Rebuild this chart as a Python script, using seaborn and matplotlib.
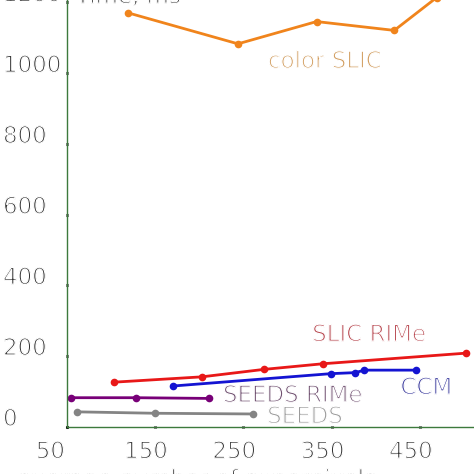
import numpy as np
import pandas as pd
import matplotlib
matplotlib.use("Agg")
import matplotlib.pyplot as plt
import matplotlib.patheffects as pe
import seaborn as sns
from matplotlib.transforms import blended_transform_factory

# ---- data ----
slic_x = [119, 244, 333, 421, 469]
slic_y = [1171, 1083, 1146, 1121, 1214]
slic_rime_x = [104, 203, 273, 340, 502]
slic_rime_y = [126, 141, 162, 178, 208]
ccm_x = [170, 349, 377, 387, 446]
ccm_y = [115, 150, 153, 160, 160]
seeds_rime_x = [55, 128, 211]
seeds_rime_y = [82, 82, 80]
seeds_x = [62, 150, 261]
seeds_y = [42, 38, 36]

series_names = ["color SLIC", "SLIC RIMe", "CCM", "SEEDS RIMe", "SEEDS"]
line_colors = ["#f0841c", "#e81818", "#1414d2", "#780078", "#848484"]
label_colors = ["#d09a5a", "#b84850", "#4040a0", "#705070", "#9a9a9a"]
label_pos_x = [278, 328, 428, 227, 277]
label_pos_y = [1015, 242, 92, 70, 10]

x_ticks = [50, 150, 250, 350, 450]
y_ticks = [0, 200, 400, 600, 800, 1000, 1200]
x_label = "average number of superpixels"
y_label = "Time, ms"

xs = [slic_x, slic_rime_x, ccm_x, seeds_rime_x, seeds_x]
ys = [slic_y, slic_rime_y, ccm_y, seeds_rime_y, seeds_y]

sns.set_theme(style="white")
plt.rcParams["font.family"] = ["DejaVu Sans"]

fig = plt.figure(figsize=(4.74, 4.74), dpi=100)
ax = fig.add_axes([0, 0, 1, 1])

for name, x, y, c in zip(series_names, xs, ys, line_colors):
    df = pd.DataFrame({"x": x, "y": y})
    sns.lineplot(data=df, x="x", y="y", ax=ax, color=c, linewidth=2.0,
                 marker="o", markersize=5.5, markeredgewidth=0, sort=False,
                 estimator=None, legend=False, clip_on=False)

ax.set_xlim(-25.5, 511.3)
ax.set_ylim(-133.8, 1207)

for s in ["top", "right"]:
    ax.spines[s].set_visible(False)
ax.spines["left"].set_position(("data", 50))
ax.spines["bottom"].set_position(("data", 0))
ax.spines["left"].set_bounds(0, 1300)
ax.spines["bottom"].set_bounds(50, 600)
for s in ["left", "bottom"]:
    ax.spines[s].set_color("#3c7a3c")
    ax.spines[s].set_linewidth(1.0)

ax.set_xticks(x_ticks)
ax.set_yticks(y_ticks)
ax.set_xticklabels([])
ax.set_yticklabels([])
ax.tick_params(axis="both", which="both", length=2.0, width=2.2, color="black",
               direction="inout", bottom=True, left=True)
ax.set_xlabel("")
ax.set_ylabel("")

fs = 16.5
tc = "#303030"
thin = [pe.Normal(), pe.Stroke(linewidth=0.9, foreground="white")]

def label(x, y, s, color, transform=None):
    kw = dict(ha="left", va="baseline", fontsize=fs, color=color,
              path_effects=thin)
    if transform is not None:
        kw["transform"] = transform
    ax.text(x, y, s, **kw)

ytr = blended_transform_factory(ax.transAxes, ax.transData)
for v in y_ticks:
    label(3 / 474, v + 3, str(v), tc, ytr)
for v in x_ticks:
    label(v - 35, -89, str(v), tc)

label(-5, -168, x_label, tc)
label(60.5, 1198, y_label, tc)

for name, lx, ly, c in zip(series_names, label_pos_x, label_pos_y, label_colors):
    label(lx, ly, name, c)

fig.savefig("out.png", dpi=100)
